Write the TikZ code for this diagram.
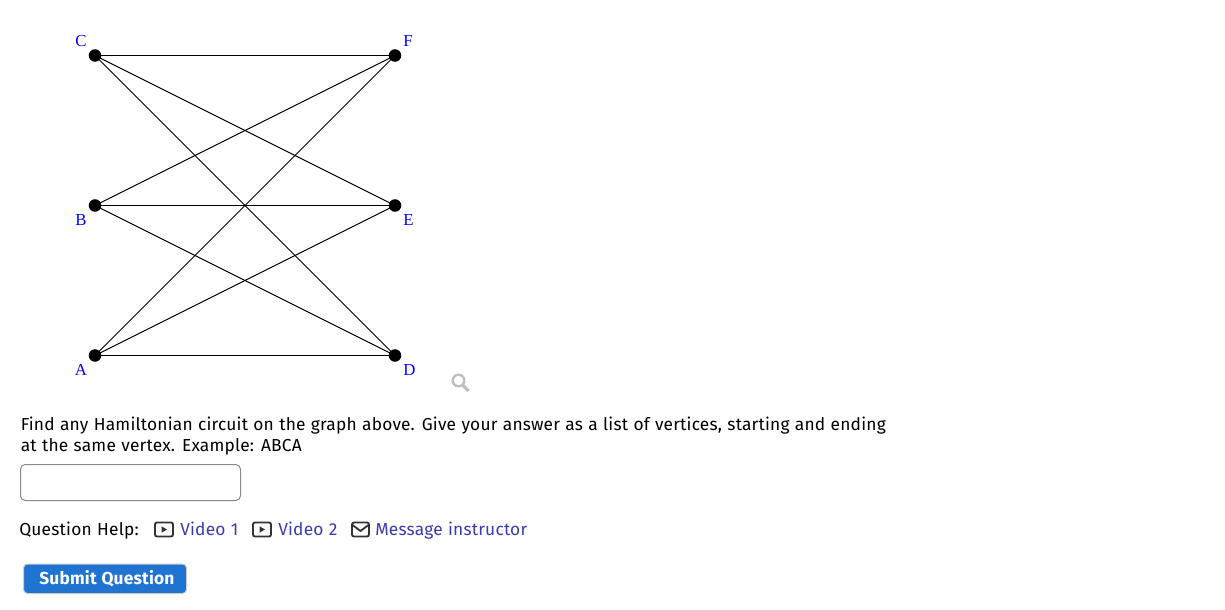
\documentclass[tikz,border=0pt]{standalone}
\usepackage{fontspec}
\setmainfont[LetterSpace=1.2,WordSpace=1.12]{Fira Sans}
\newfontfamily\lblfont{Liberation Serif}
\definecolor{linkc}{HTML}{3B3BB0}
\definecolor{btn}{HTML}{1F74D1}
\tikzset{
  x=0.75pt,y=-0.75pt,
  vertex/.style={circle,fill=black,inner sep=0pt,minimum size=9.4pt},
  edge/.style={draw=black,line width=0.75pt},
  vlabel/.style={font=\lblfont\fontsize{12.6}{12.6}\selectfont,text=blue,inner sep=0pt},
  body/.style={font=\fontsize{13}{15}\selectfont,text=black,inner sep=0pt,anchor=base west},
  linktext/.style={body,text=linkc},
  iconline/.style={draw=black!80,line width=1.4pt,rounded corners=1.5pt},
}
\begin{document}
\begin{tikzpicture}
\useasboundingbox (0,0) rectangle (1225,610);
\fill[white] (0,0) rectangle (1225,610);
\node[vertex] (C) at (95,55.5) {};
\node[vertex] (F) at (395,55.5) {};
\node[vertex] (B) at (95,205.5) {};
\node[vertex] (E) at (395,205.5) {};
\node[vertex] (A) at (95,355.5) {};
\node[vertex] (D) at (395,355.5) {};
\foreach \u/\v in {C/F,C/E,C/D,B/F,B/E,B/D,A/F,A/E,A/D}{\draw[edge] (\u.center) -- (\v.center);}
\node[vlabel] (lc) at (81,41) {C};
\node[vlabel] (lf) at (408,41) {F};
\node[vlabel] (lb) at (81,220) {B};
\node[vlabel] (le) at (408.5,220) {E};
\node[vlabel] (la) at (81,370) {A};
\node[vlabel] (ld) at (409.5,370) {D};
% magnifier
\draw[black!25,line width=1.8pt] (458.5,380.5) circle (5.8);
\draw[black!25,line width=2.4pt] (462.6,385) -- (468.5,391);
\node[body] (t1) at (20.5,430.5) {Find any Hamiltonian circuit on the graph above. Give your answer as a list of vertices, starting and ending};
\node[body] (t2) at (20.5,451.5) {at the same vertex. Example: ABCA};
\draw[black!45,line width=0.75pt,rounded corners=3.5pt,fill=white] (20.5,464.5) rectangle (240.5,500.5);
\node[body] (qh) at (19,535.5) {Question Help:};
\draw[iconline] (155,522.5) rectangle (173,536.5);
\fill[black!80] (161.5,526.3) -- (167,529.5) -- (161.5,532.7) -- cycle;
\node[linktext] (v1) at (180,535.5) {Video 1};
\draw[iconline] (253,522.5) rectangle (271,536.5);
\fill[black!80] (259.5,526.3) -- (265,529.5) -- (259.5,532.7) -- cycle;
\node[linktext] (v2) at (278,535.5) {Video 2};
\draw[iconline] (352,522.5) rectangle (369,536.5);
\draw[black!80,line width=1.4pt] (352.5,525) -- (360.5,531) -- (368.5,525);
\node[linktext] (m) at (375,535.5) {Message instructor};
\draw[black!20,line width=0.75pt,rounded corners=3pt,fill=btn] (23.5,564) rectangle (186.5,593.5);
\node[body,text=white,font=\fontsize{13}{15}\selectfont\bfseries] (s) at (39,584.5) {Submit Question};
\end{tikzpicture}
\end{document}
